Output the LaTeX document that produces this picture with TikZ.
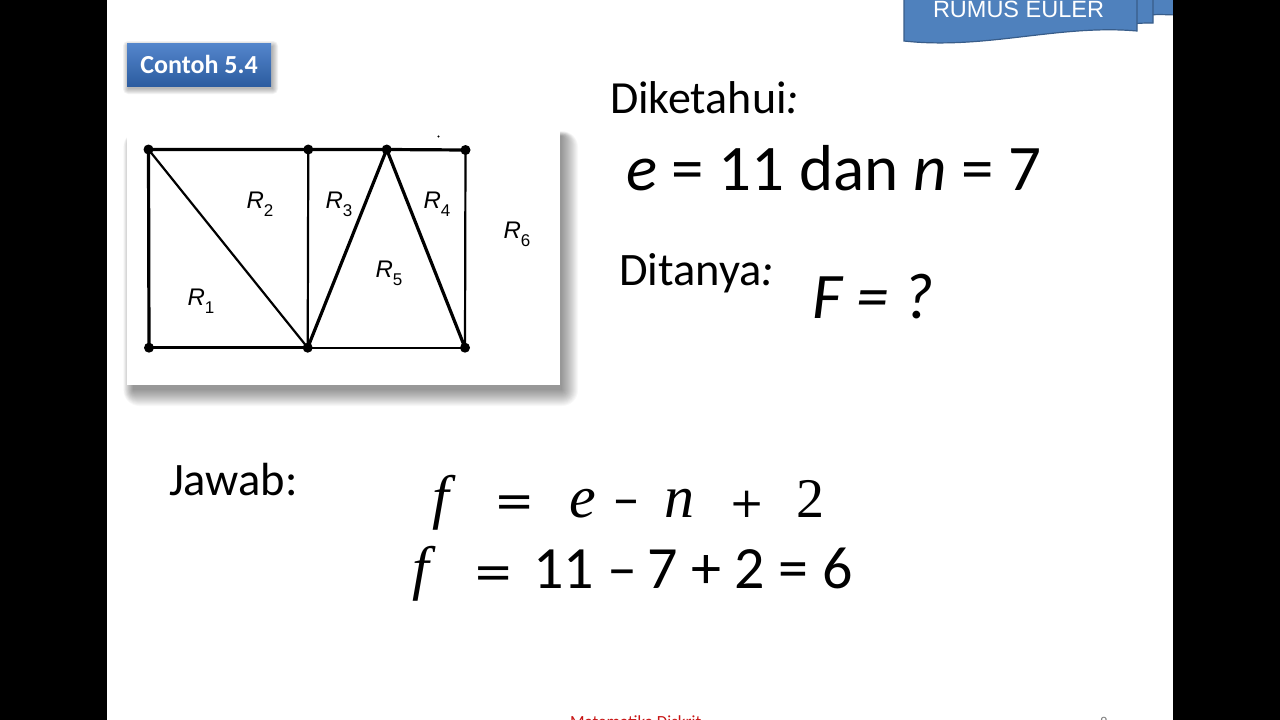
\documentclass[tikz,border=0pt]{standalone}
\usepackage{fontspec}
\setmainfont{Carlito}
\newfontfamily\arialf{Liberation Sans}
\newfontfamily\serf{Liberation Serif}
\newfontfamily\dvs{DejaVu Serif}
\definecolor{bannerblue}{RGB}{79,129,189}
\definecolor{bannerdark}{RGB}{56,93,138}
\definecolor{boxtop}{RGB}{84,134,204}
\definecolor{boxbot}{RGB}{44,92,160}
\definecolor{footred}{RGB}{200,20,20}
\newcommand\Rlab[1]{{\arialf\fontsize{24}{28}\selectfont\textit{R}\raisebox{-0.33em}{\fontsize{17}{20}\selectfont #1}}}
\newcommand\fs[1]{\fontsize{#1}{#1}\selectfont}
\newcommand\mv[1]{{\serf\itshape #1}}
\tikzset{
  vtx/.style={circle,fill=black,inner sep=0pt,minimum size=10pt},
  thickedge/.style={line width=3.2pt},
  thinedge/.style={line width=2.2pt},
  txt/.style={anchor=base west,inner sep=0pt,outer sep=0pt},
  rlabel/.style={inner sep=0pt},
  bannershape/.style={fill=bannerblue,draw=bannerdark,line width=1.2pt},
  shadowlayer/.style={fill=black,opacity=0.028}
}
\begin{document}
\begin{tikzpicture}[x=1pt,y=-1pt]
\useasboundingbox (0,0) rectangle (1280,720);
\clip (0,0) rectangle (1280,720);
\fill[white] (0,0) rectangle (1280,720);

% banner stack
\draw[bannershape] (1150,-5) -- (1150,15) .. controls (1160,14) and (1168,15) .. (1180,15) -- (1180,-5) -- cycle;
\draw[bannershape] (1132,-5) -- (1132,24) .. controls (1140,23) and (1146,23) .. (1153,23) -- (1153,-5) -- cycle;
\draw[bannershape] (904,-5) -- (904,41) .. controls (985,50) and (1060,24) .. (1137,31) -- (1137,-5) -- cycle;
\node[txt,text=white] (banner) at (933,17) {\arialf\fs{23.5}RUMUS EULER};

% Contoh box with soft shadow
\foreach \i in {0,...,5} {
  \fill[fill=black,opacity=0.05,rounded corners=\i pt] (128-\i,46-\i) rectangle (273+\i,89+\i);
}
\node[fill=boxbot,top color=boxtop,bottom color=boxbot,minimum width=144pt,minimum height=43pt,inner sep=0pt,
  text=white,font=\bfseries\fs{26}] (contoh) at (199,64.5) {Contoh 5.4};

% graph picture with soft shadow
\foreach \i in {0,...,16} {
  \fill[shadowlayer,rounded corners=\i pt] (133-0.6*\i,136-0.3*\i) rectangle (562+\i,390+\i);
}
\fill[white] (127,125) rectangle (560,385);
\node[vtx] (a) at (148.5,149.5) {};
\node[vtx] (b) at (308.3,149.5) {};
\node[vtx] (c) at (386.7,149.5) {};
\node[vtx] (d) at (465.5,150) {};
\node[vtx] (e) at (149,347.7) {};
\node[vtx] (f) at (307.7,347.7) {};
\node[vtx] (g) at (465,347.7) {};
\draw[thickedge] (a.center) -- (b.center) -- (c.center) -- (d.center);
\draw[thickedge] (e.center) -- (f.center);
\draw[thinedge] (f.center) -- (g.center);
\draw[thickedge] (a.center) -- (e.center);
\draw[thinedge] (b.center) -- (f.center);
\draw[thinedge] (d.center) -- (g.center);
\draw[thinedge] (a.center) -- (f.center);
\draw[thickedge] (f.center) -- (c.center);
\draw[thickedge] (c.center) -- (g.center);
\fill (438.5,136.5) circle (1.1pt);
\node[rlabel] (r1) at (201,301) {\Rlab{1}};
\node[rlabel] (r2) at (260,204) {\Rlab{2}};
\node[rlabel] (r3) at (339,204) {\Rlab{3}};
\node[rlabel] (r4) at (437,204) {\Rlab{4}};
\node[rlabel] (r5) at (389,273) {\Rlab{5}};
\node[rlabel] (r6) at (517,234) {\Rlab{6}};

% right texts
\node[txt] (dik) at (610,113) {\fs{46}Diketahui\textit{:}};
\node[txt] (en) at (626,190) {\fs{65}\textit{e} = 11 dan \textit{n} = 7};
\node[txt] (dit) at (619,285) {\fs{46.5}Ditanya\textit{:}};
\node[txt] (fq) at (812,318) {\fs{65}\textit{F = ?}};

% answer
\node[txt] (jaw) at (169,495) {\fs{46.5}Jawab:};
\node[txt] (l1f) at (432,517) {\fs{60}\mv{f}};
\node[txt] (l1eq) at (494,517) {\fs{48}\dvs =};
\node[txt] (l1e) at (569,517) {\fs{60}\mv{e}};
\node[txt] (l1m) at (612,517) {\fs{56}\textendash};
\node[txt] (l1n) at (664,517) {\fs{60}\mv{n}};
\node[txt] (l1p) at (729,517) {\fs{42}\dvs +};
\node[txt] (l1two) at (796,517) {\fs{56}\serf 2};
\node[txt] (l2f) at (412,588) {\fs{60}\mv{f}};
\node[txt] (l2eq) at (473,588) {\fs{48}\dvs =};
\node[txt] (l2rest) at (533,588) {\fs{60}11 \textendash\,7 + 2 = 6};

% footer (cut off as in the slide)
\node[txt,text=footred] (foot) at (570,727) {\fs{17}Matematika Diskrit};
\node[txt,text=gray] (pg) at (1100,727) {\fs{15}8};

% black side bars
\fill[black] (0,0) rectangle (107,720);
\fill[black] (1173,0) rectangle (1280,720);
\end{tikzpicture}
\end{document}
